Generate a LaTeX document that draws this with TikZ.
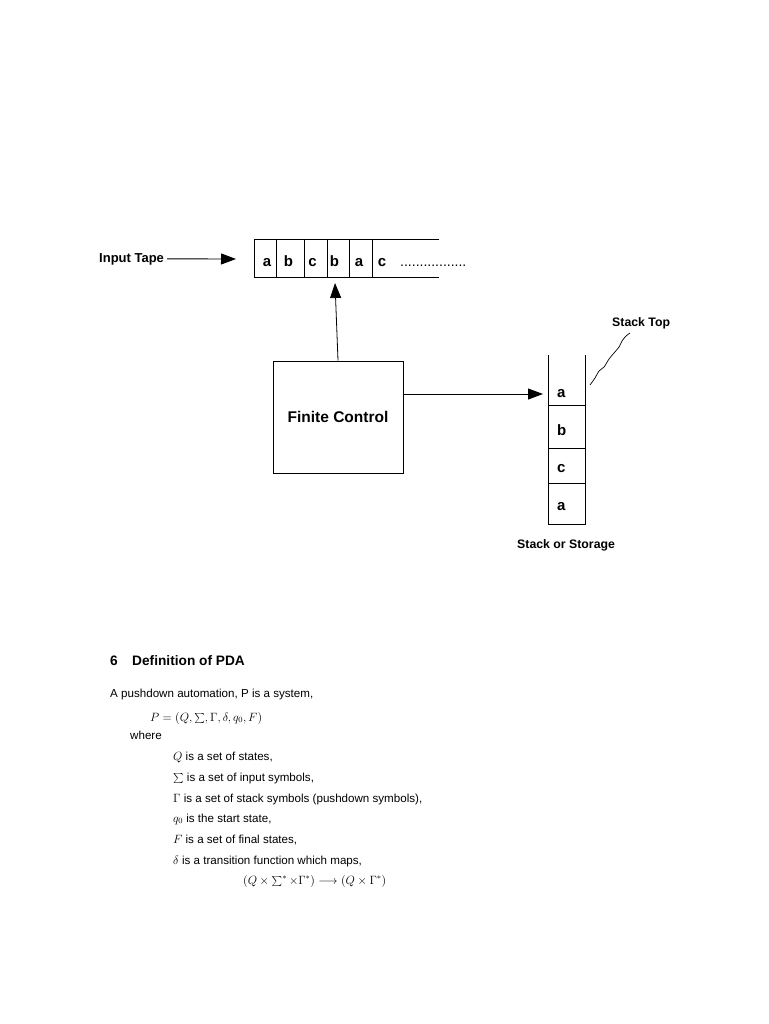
\documentclass[tikz,border=0pt]{standalone}
\usepackage{fontspec}
\setmainfont{Liberation Sans}
\usetikzlibrary{arrows.meta}
\begin{document}
\begin{tikzpicture}[x=1pt,y=-1pt,
  lbl/.style={font=\fontsize{13}{15}\selectfont\bfseries, inner sep=0pt, anchor=base west},
  sym/.style={font=\fontsize{15}{17}\selectfont\bfseries, inner sep=0pt, anchor=base},
  frame/.style={line width=1pt},
  arr/.style={line width=0.9pt, -{Triangle[length=15pt,width=11pt]}},
  ctrl/.style={draw, line width=1pt, minimum width=130pt, minimum height=112pt,
               font=\fontsize{15.5}{18}\selectfont\bfseries},
  body/.style={font=\fontsize{11.6}{14}\selectfont, inner sep=0pt, anchor=base west},
  head/.style={font=\fontsize{13.7}{16}\selectfont\bfseries, inner sep=0pt, anchor=base west}]
\useasboundingbox (0,0) rectangle (768,1024);

% ---- input tape ----
\node[lbl] (intape) at (99,262) {Input Tape};
\coordinate (tapein) at (236,259);
\draw[frame] (439,239) -- (254,239) -- (254,277) -- (439,277);
\foreach \x in {276,304,327,349,372} \draw[frame] (\x,239) -- (\x,277);
\node[sym] (t1) at (267,266) {a};
\node[sym] (t2) at (288.5,266) {b};
\node[sym] (t3) at (312.5,266) {c};
\node[sym] (t4) at (334.5,266) {b};
\node[sym] (t5) at (359,266) {a};
\node[sym] (t6) at (382,266) {c};
\node[font=\fontsize{14}{16}\selectfont, inner sep=0pt, anchor=base west] (dots) at (400,266) {.................};
\draw[arr] ([xshift=3pt]intape.east) -- (tapein);

% ---- finite control ----
\node[ctrl] (fc) at (338,417) {Finite Control};
\coordinate (tapeout) at (335,283);
\draw[arr, line width=0.8pt] (fc.north) -- (tapeout);

% ---- stack ----
\coordinate (stackin) at (543,394);
\draw[frame] (548,355) -- (548,524) -- (585,524) -- (585,355);
\foreach \y in {405,448,483} \draw[frame] (548,\y) -- (585,\y);
\node[sym, anchor=base west] (s1) at (557,397) {a};
\node[sym, anchor=base west] (s2) at (557,435) {b};
\node[sym, anchor=base west] (s3) at (557,472) {c};
\node[sym, anchor=base west] (s4) at (557,510) {a};
\draw[arr] (fc.east |- stackin) -- (stackin);

\node[lbl, font=\fontsize{12.3}{15}\selectfont\bfseries] (stop) at (612,326) {Stack Top};
\draw[line width=0.7pt] plot[smooth] coordinates {(590,385) (595,378) (599,371) (604,367) (609,359) (614,353) (619,347) (622,341) (626,336) (630,333)};
\node[lbl, font=\fontsize{12.3}{15}\selectfont\bfseries] (sstore) at (517,548) {Stack or Storage};

% ---- definition text ----
\node[head] (secno) at (110,665) {6};
\node[head] (title) at (132,665) {Definition of PDA};
\node[body] (intro) at (110,697) {A pushdown automation, P is a system,};
\node[body] (tuple) at (150,721) {$P=(Q,\sum,\Gamma,\delta,q_0,F)$};
\node[body] (where) at (130,739) {where};
\node[body] (l1) at (173,760) {$Q$ is a set of states,};
\node[body] (l2) at (173,781) {$\sum$ is a set of input symbols,};
\node[body] (l3) at (173,802) {$\Gamma$ is a set of stack symbols (pushdown symbols),};
\node[body] (l4) at (173,822) {$q_0$ is the start state,};
\node[body] (l5) at (173,843) {$F$ is a set of final states,};
\node[body] (l6) at (173,864) {$\delta$ is a transition function which maps,};
\node[body] (map) at (243,884) {$(Q\times\sum^*\times\Gamma^*)\longrightarrow(Q\times\Gamma^*)$};
\end{tikzpicture}
\end{document}
